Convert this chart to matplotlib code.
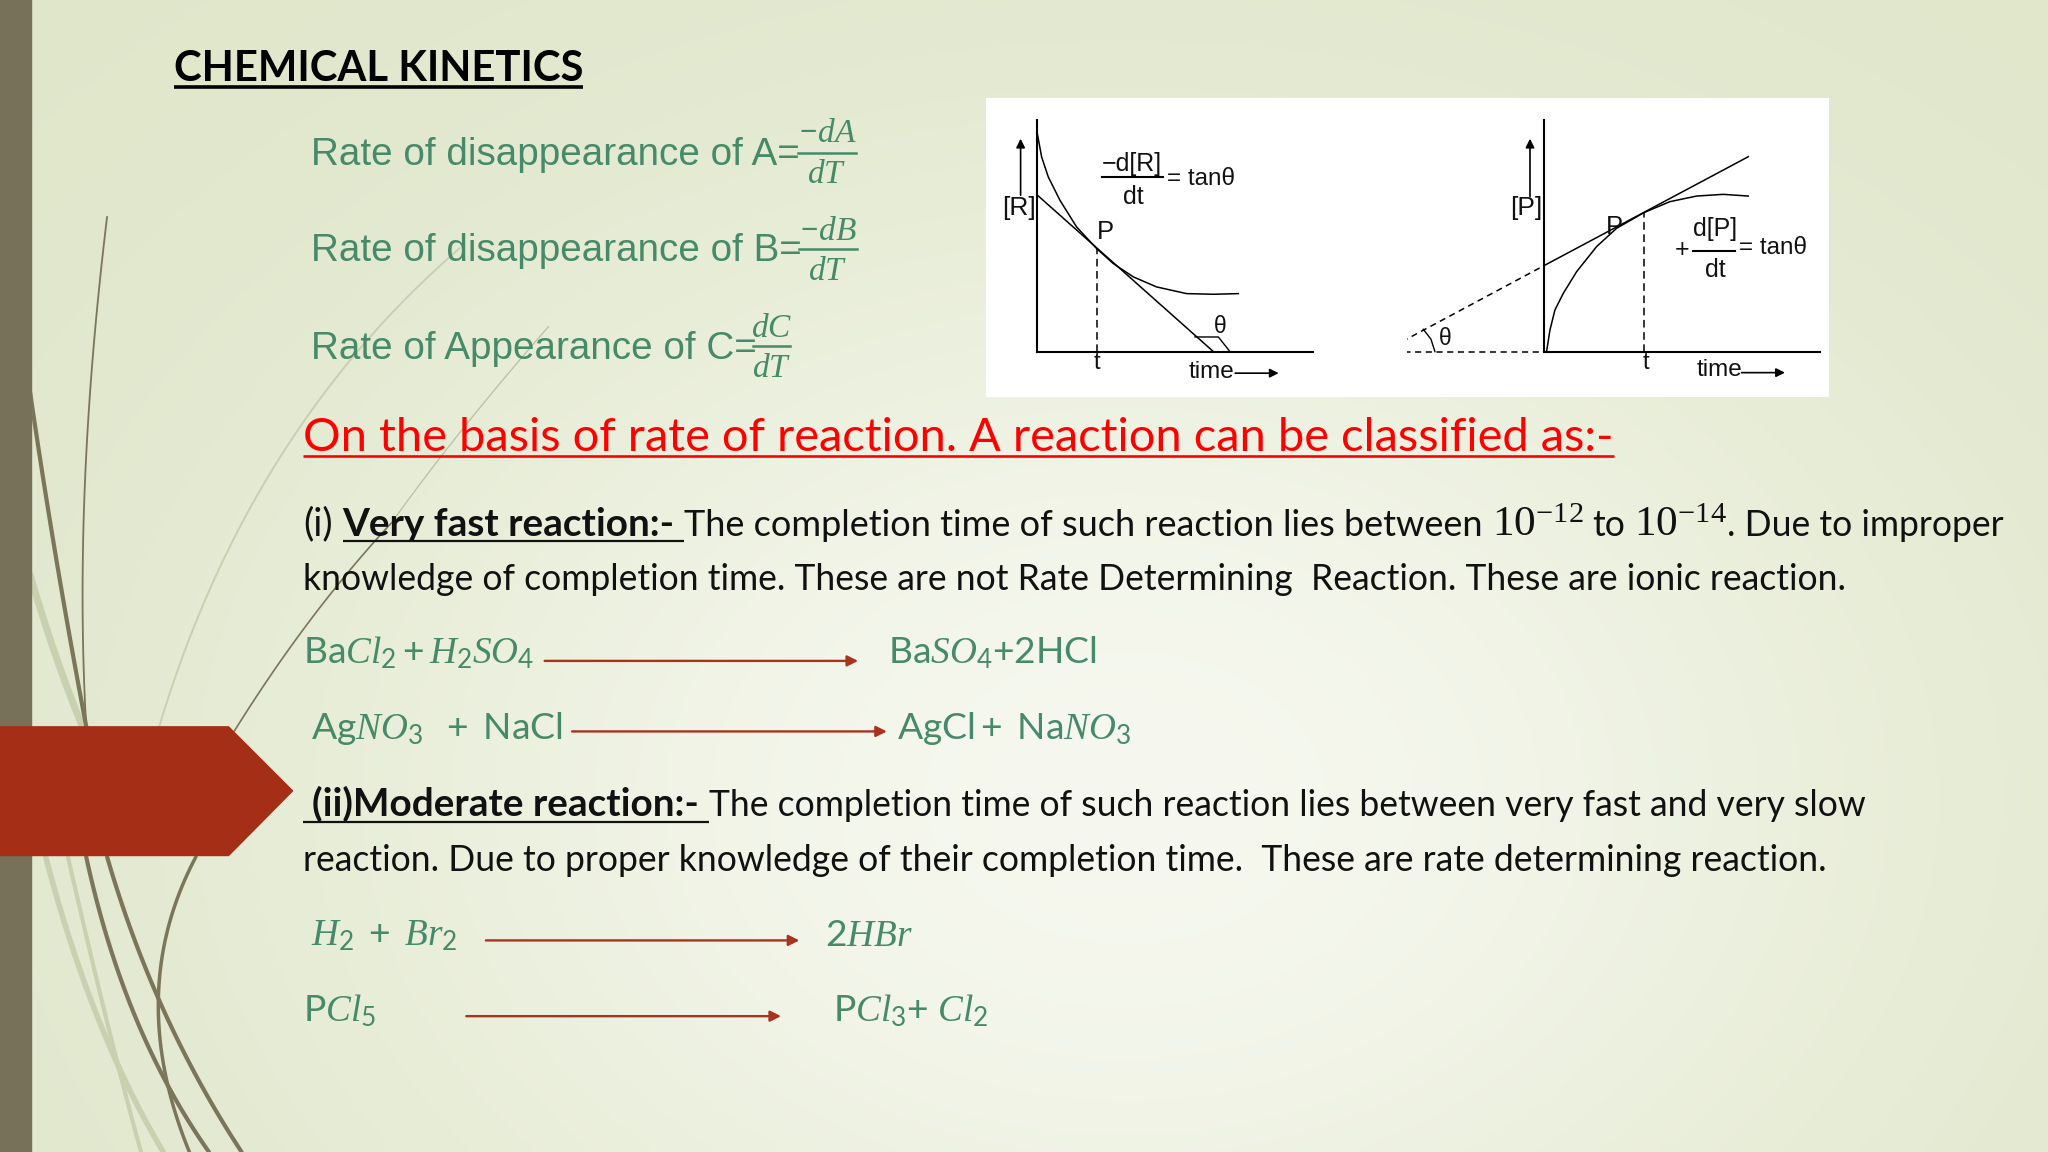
import numpy as np
import matplotlib.pyplot as plt
from matplotlib.patches import Polygon, Rectangle

plt.rcParams['mathtext.fontset'] = 'custom'
plt.rcParams['mathtext.rm'] = 'Lato'
plt.rcParams['mathtext.it'] = 'Liberation Serif:italic'
plt.rcParams['mathtext.bf'] = 'Lato:bold'
plt.rcParams['mathtext.sf'] = 'Liberation Serif'

# ---- values (graph units, origin = axes corner)
r_time = [0.2, 3.5, 8.6, 17.5, 30.3, 45.6, 58.4, 73.7, 91.6, 114.5, 134.9, 154.1]
r_conc = [166.9, 149.0, 133.7, 115.9, 95.4, 78.9, 67.4, 57.2, 49.5, 44.4, 43.9, 44.4]
r_tan_time = [0, 135]
r_tan_conc = [120, 0]
r_point = (45.6, 78.9)

p_time = [2.0, 4.6, 8.4, 14.8, 25.0, 40.3, 55.6, 76.5, 96.4, 116.9, 137.3, 156.4]
p_conc = [0, 16.6, 31.9, 44.6, 61.2, 80.4, 94.4, 106.4, 114.8, 119.1, 120.4, 119.1]
p_tan_time = [-123, 0, 156.4]
p_tan_conc = [0, 65.8, 149.2]
p_point = (76.5, 106.4)

# ---- slide text
title = "CHEMICAL KINETICS"
rate_labels = ["Rate of disappearance of A=", "Rate of disappearance of B=",
               "Rate of Appearance of C="]
rate_nums = [r"$-dA$", r"$-dB$", r"$dC$"]
rate_dens = [r"$dT$", r"$dT$", r"$dT$"]
heading = "On the basis of rate of reaction. A reaction can be classified as:-"
fast_left = [r"$\mathrm{Ba}Cl_2 + H_2SO_4$", r"$\mathrm{Ag}NO_3\ \ +\ \mathrm{NaCl}$"]
fast_right = [r"$\mathrm{Ba}SO_4\mathrm{+2HCl}$", r"$\mathrm{AgCl+}\ \mathrm{Na}NO_3$"]
mod_left = [r"$H_2\ +\ Br_2$", r"$\mathrm{P}Cl_5$"]
mod_right = [r"$2HBr$", r"$\mathrm{P}Cl_3\mathrm{+}\ Cl_2$"]

GREEN = '#478a69'
ARROW = '#a8331f'
DARK = '#7b7559'
PALE = '#c9d0b0'

W, H = 1568, 882
fig = plt.figure(figsize=(20.48, 11.52), dpi=100)
ax = fig.add_axes([0, 0, 1, 1])
R = fig.canvas.get_renderer()
K = W / fig.bbox.width

# background gradient
yy, xx = np.mgrid[0:H:4, 0:W:4]
base = np.array([223, 230, 201]) / 255
light = np.array([246, 248, 239]) / 255
g = np.exp(-(((xx - 860) / 640) ** 2 + ((yy - 610) / 470) ** 2))
img = base + (light - base) * g[..., None]
ax.imshow(img, extent=(0, W, H, 0), interpolation='bilinear', aspect='auto', zorder=0)
ax.set_xlim(0, W)
ax.set_ylim(H, 0)
ax.axis('off')


def curve(p0, p1, p2, **kw):
    s = np.linspace(0, 1, 80)[:, None]
    pts = (1 - s) ** 2 * np.array(p0) + 2 * (1 - s) * s * np.array(p1) + s ** 2 * np.array(p2)
    ax.plot(pts[:, 0], pts[:, 1], solid_capstyle='round', zorder=1, **kw)


# decorative strokes
curve((23, 440), (42, 505), (63, 556), color=PALE, lw=5)
curve((122, 556), (190, 330), (352, 190), color=PALE, lw=1.4)
curve((82, 166), (56, 380), (66, 556), color=DARK, lw=1.3)
curve((23, 300), (42, 430), (66, 556), color=DARK, lw=3)
curve((178, 562), (235, 470), (300, 400), color=DARK, lw=1.2)
curve((300, 400), (350, 330), (420, 250), color='#b9c0a0', lw=0.9)
curve((35, 656), (70, 790), (125, 882), color=PALE, lw=4)
curve((52, 656), (85, 800), (108, 882), color=PALE, lw=3)
curve((66, 656), (95, 790), (160, 882), color=DARK, lw=3)
curve((82, 656), (118, 780), (185, 882), color=DARK, lw=3)
curve((150, 656), (95, 760), (145, 882), color=DARK, lw=2.5)

ax.add_patch(Rectangle((0, 0), 23.5, H, color='#77715a', zorder=2))
ax.add_patch(Polygon([(0, 556.5), (175, 556.5), (224, 605.5), (175, 655), (0, 655)],
                     closed=True, color='#a42e16', zorder=3))
ax.add_patch(Rectangle((755, 75), 645, 229, fc='white', ec='none', zorder=2))


def tw(t):
    return t.get_window_extent(R).width * K


def gap(style, size):
    a = ax.text(0, 0, 'n n', fontsize=size, **style)
    b = ax.text(0, 0, 'nn', fontsize=size, **style)
    w = tw(a) - tw(b)
    a.remove()
    b.remove()
    return w


def lay(x, y, parts, size, draw=True, ul_dy=4.5, ul_lw=1.6):
    cx = x
    for txt, style in parts:
        st = dict(style)
        ul = st.pop('ul', False)
        sz = size * st.pop('k', 1.0)
        core = txt.strip(' ')
        lead = len(txt) - len(txt.lstrip(' '))
        trail = len(txt) - len(txt.rstrip(' '))
        sw = gap(st, sz) if (lead or trail) else 0
        x0 = cx
        cx += lead * sw
        t = ax.text(cx, y, core, fontsize=sz, va='baseline', ha='left', zorder=6, **st)
        cx += tw(t)
        if not draw:
            t.remove()
        cx += trail * sw
        if draw and ul:
            ax.plot([x0, cx], [y + ul_dy] * 2, color=st.get('color', 'k'), lw=ul_lw,
                    solid_capstyle='butt', zorder=6)
    return cx


def fit(x, right, parts, size=20):
    end = lay(x, 0, parts, size, draw=False)
    return size * (right - x) / (end - x)


# title
tstyle = dict(family='Lato', fontweight='bold', color='black', ul=True)
s = fit(133, 447, [(title, tstyle)])
lay(133, 62, [(title, tstyle)], s, ul_dy=4.5, ul_lw=2.6)

# rate definitions
gstyle = dict(family='Liberation Sans', color=GREEN)
s = fit(238, 611, [(rate_labels[0], gstyle)])
ys = [126, 200, 275]
fr = [(633, 109, 117, 140, 22), (634, 184, 191, 214, 22), (590.5, 258, 265, 289, 14)]
for lab, num, den, y, (cx, yn, yb, yd, half) in zip(rate_labels, rate_nums, rate_dens, ys, fr):
    lay(238, y, [(lab, gstyle)], s)
    ax.text(cx, yn, num, fontsize=24, ha='center', va='baseline', color=GREEN, zorder=6)
    ax.plot([cx - half, cx + half], [yb] * 2, color=GREEN, lw=1.8, zorder=6)
    ax.text(cx, yd, den, fontsize=24, ha='center', va='baseline', color=GREEN, zorder=6)

# red heading
hstyle = dict(family='Lato', color='#ff0000', ul=True)
s = fit(232, 1237, [(heading, hstyle)])
lay(232, 345, [(heading, hstyle)], s, ul_dy=4.5, ul_lw=1.9)

# body paragraphs
reg = dict(family='Lato', color='#111111')
bold = dict(family='Lato', fontweight='bold', color='#111111', ul=True, k=1.09)
mth = dict(color='#111111', k=1.22)
line1 = [("(i) ", dict(reg, k=1.08)), ("Very fast reaction:- ", bold),
         ("The completion time of such reaction lies between ", dict(reg, k=1.015)),
         (r"$\mathsf{10}^{\mathsf{-12}}$", mth), (" to ", reg),
         (r"$\mathsf{10}^{\mathsf{-14}}$", mth), (". Due to improper", reg)]
line2 = [("knowledge of completion time. These are not Rate Determining  Reaction. "
          "These are ionic reaction.", reg)]
line3 = [(" (ii)Moderate reaction:- ", bold),
         ("The completion time of such reaction lies between very fast and very slow", reg)]
line4 = [("reaction. Due to proper knowledge of their completion time.  "
          "These are rate determining reaction.", reg)]
s = float(np.mean([fit(232, 1414, line2), fit(232, 1404, line4)]))
for ln, y in zip([line1, line2, line3, line4], [410, 452, 625, 667]):
    lay(232, y, ln, s)

# reactions
estyle = dict(color=GREEN)
se = fit(232, 404, [(fast_left[0], estyle)]) * 1.03
left_x = [232, 238, 238, 232]
right_x = [680, 687, 632, 638]
eq_y = [508, 566, 724, 782]
arrows = [(417, 657, 506), (438, 679, 560), (372, 612, 720), (357, 598, 778)]
for lt, rt, lx, rx, y, (a0, a1, ay) in zip(fast_left + mod_left, fast_right + mod_right,
                                          left_x, right_x, eq_y, arrows):
    lay(lx, y, [(lt, estyle)], se)
    lay(rx, y, [(rt, estyle)], se)
    ax.annotate('', xy=(a1, ay), xytext=(a0, ay),
                arrowprops=dict(arrowstyle='-|>', color=ARROW, lw=1.7, mutation_scale=16,
                                shrinkA=0, shrinkB=0), zorder=6)

# ---- diagrams
kfont = dict(family='Liberation Sans', color='#111111')


def diagram(x0, x1, xlim):
    g = fig.add_axes([x0 / W, 1 - 304 / H, (x1 - x0) / W, 229 / H])
    g.set_xlim(*xlim)
    g.set_ylim(-34.8, 194.2)
    g.axis('off')
    g.plot([0, 0], [0, 177.3], color='k', lw=1.5)
    g.plot([0, 211.3], [0, 0], color='k', lw=1.5)
    return g


def h_arrow(g, x0, x1, y):
    g.annotate('', xy=(x1, y), xytext=(x0, y),
               arrowprops=dict(arrowstyle='-|>', color='k', lw=1.2, mutation_scale=13,
                               shrinkA=0, shrinkB=0))


def up_arrow(g, x, y0, y1):
    g.annotate('', xy=(x, y1), xytext=(x, y0),
               arrowprops=dict(arrowstyle='-|>', color='k', lw=1.2, mutation_scale=13,
                               shrinkA=0, shrinkB=0))


g1 = diagram(755, 1077.5, (-39, 283.5))
g1.plot(r_time, r_conc, color='k', lw=1.1)
g1.plot(r_tan_time, r_tan_conc, color='k', lw=1.1)
g1.plot([r_point[0]] * 2, [0, r_point[1]], color='k', lw=1.1, dashes=(5, 3))
g1.plot([120.9, 138.8, 147.7], [11.2, 11.2, 0], color='k', lw=1.0)
up_arrow(g1, -12.6, 119.7, 163)
g1.text(-13.8, 110.3, '[R]', fontsize=19, ha='center', va='center', **kfont)
g1.text(52, 91.6, 'P', fontsize=18.5, ha='center', va='center', **kfont)
g1.text(45.6, -9, 't', fontsize=17, ha='center', va='center', **kfont)
g1.text(140, 19, 'θ', fontsize=16.5, ha='center', va='center', **kfont)
g1.text(72.4, 143.5, '−d[R]', fontsize=18, ha='center', va='center', **kfont)
g1.plot([49.4, 96.6], [133.7, 133.7], color='k', lw=1.5)
g1.text(73.7, 118.4, 'dt', fontsize=18, ha='center', va='center', **kfont)
g1.text(99.5, 132.5, '= tanθ', fontsize=17.5, ha='left', va='center', **kfont)
g1.text(116, -15.6, 'time', fontsize=17.5, ha='left', va='center', **kfont)
h_arrow(g1, 151.7, 185, -16.5)

g2 = diagram(1077.5, 1400, (-104.6, 217.9))
g2.plot([-123, 0], [0, 0], color='k', lw=1.1, dashes=(4, 3))
g2.plot(p_tan_time[:2], p_tan_conc[:2], color='k', lw=1.1, dashes=(4, 3))
g2.plot(p_tan_time[1:], p_tan_conc[1:], color='k', lw=1.1)
g2.plot(p_time, p_conc, color='k', lw=1.1)
g2.plot([p_point[0]] * 2, [0, p_point[1]], color='k', lw=1.1, dashes=(5, 3))
g2.plot([-92.4, -86.5, -83.5], [17.1, 9.5, 0], color='k', lw=1.0)
up_arrow(g2, -10.7, 118.6, 163)
g2.text(-13.3, 109.7, '[P]', fontsize=19, ha='center', va='center', **kfont)
g2.text(54.3, 95.7, 'P', fontsize=18.5, ha='center', va='center', **kfont)
g2.text(78, -9, 't', fontsize=17, ha='center', va='center', **kfont)
g2.text(-75.8, 10.2, 'θ', fontsize=16.5, ha='center', va='center', **kfont)
g2.text(105.4, 77.8, '+', fontsize=18, ha='center', va='center', **kfont)
g2.text(130.9, 93.9, 'd[P]', fontsize=18, ha='center', va='center', **kfont)
g2.plot([114.3, 146.2], [77.3, 77.3], color='k', lw=1.5)
g2.text(130.9, 62.5, 'dt', fontsize=18, ha='center', va='center', **kfont)
g2.text(149.5, 79.1, '= tanθ', fontsize=17.5, ha='left', va='center', **kfont)
g2.text(117, -14, 'time', fontsize=17.5, ha='left', va='center', **kfont)
h_arrow(g2, 151.3, 184.5, -16.1)

fig.savefig('out.png', dpi=100)
